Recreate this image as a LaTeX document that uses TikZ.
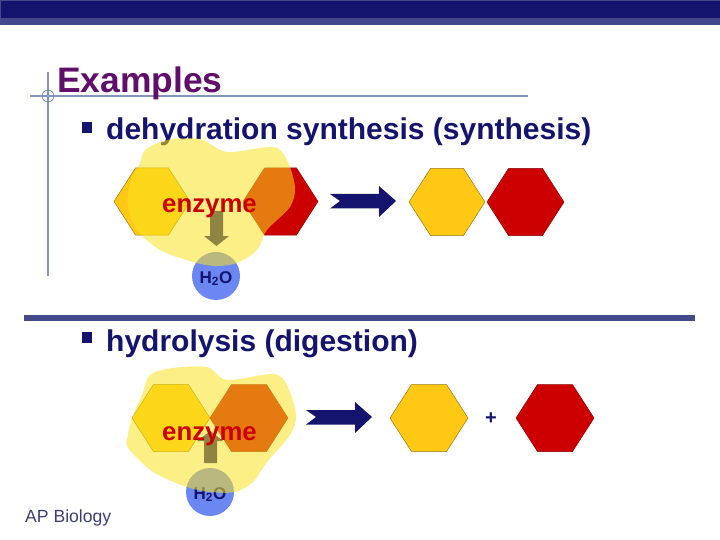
\documentclass[tikz,border=0pt]{standalone}
\usepackage{fontspec}
\setmainfont{Liberation Sans}
\definecolor{navy}{HTML}{14146E}
\definecolor{band}{HTML}{424A8C}
\definecolor{rulec}{HTML}{8494BE}
\definecolor{purp}{HTML}{5F0F6A}
\definecolor{yel}{HTML}{FFC814}
\definecolor{redh}{HTML}{CC0000}
\definecolor{blobc}{HTML}{FAE31E}
\definecolor{waterc}{HTML}{6B87F2}
\definecolor{apc}{HTML}{3C3E78}
\newcommand{\fs}[1]{\fontsize{#1}{#1}\selectfont}
\tikzset{
  x=1pt,y=-1pt,
  yhex/.style={fill=yel,draw=yel!60!black,line width=0.5pt,line join=round},
  rhex/.style={fill=redh,draw=redh!70!black,line width=0.5pt,line join=round},
  blockarrow/.style={fill=navy,draw=none},
  blob/.style={fill=blobc,fill opacity=0.54,draw=none},
  water/.style={fill=waterc,draw=none},
  head/.style={font=\fs{30}\bfseries,text=navy,anchor=base west,inner sep=0pt},
  enz/.style={font=\fs{25.8}\bfseries,text=redh,anchor=base,inner sep=0pt},
  htwo/.style={font=\fs{17}\bfseries,text=navy,anchor=base,inner sep=0pt},
}
\newcommand{\hexa}[5]{\draw[#1] (#2,#4) -- ++(21.5,-33.5) -- ++(#5-43,0) -- ++(21.5,33.5) -- ++(-21.5,33.5) -- ++(-#5+43,0) -- cycle;}
\newcommand{\rarrow}[2]{\fill[blockarrow] (#1,#2-7) -- ++(49,0) -- ++(0,-8) -- ++(17,15) -- ++(-17,16) -- ++(0,-8.5) -- ++(-49,0) -- ++(10,-7.5) -- cycle;}
\begin{document}
\begin{tikzpicture}
\useasboundingbox (0,0) rectangle (720,540);
\fill[white] (0,0) rectangle (720,540);
% header
\fill[band] (0,0) rectangle (720,25);
\fill[navy] (1,1) rectangle (720,18);
% title rules
\draw[rulec,line width=1.4pt] (30,96) -- (528,96);
\draw[rulec,line width=1.4pt] (48,72) -- (48,276);
\draw[rulec,line width=0.9pt] (48,96) circle[radius=6];
\draw[band,line width=6pt] (24,318) -- (695,318);
\node[font=\fs{35.4}\bfseries,text=purp,anchor=base west,inner sep=0pt] (title) at (57,93) {Examples};
% bullets
\fill[navy] (82,122) rectangle (92,133);
\fill[navy] (82,332) rectangle (92,343);
\node[head] (h1) at (106,140) {dehydration synthesis (synthesis)};
\node[head] (h2) at (106,351) {hydrolysis (digestion)};
% synthesis
\hexa{yhex}{114}{190}{201.5}{76}
\hexa{rhex}{243}{318}{201.5}{75}
\fill[water] (216,276) circle[radius=24];
\node[htwo] (w1) at (216,283) {H\textsubscript{2}O};
\fill[blockarrow] (210,211) -- (223,211) -- (223,236) -- (229,236) -- (216.5,246) -- (204,236) -- (210,236) -- cycle;
\fill[blob] plot[smooth cycle,tension=0.5] coordinates {(145,150) (167,140) (200,139) (227,152) (273,147) (287,160) (295,187) (290,207) (267,230) (257,250) (237,263) (215,266) (193,262) (160,250) (137,230) (128,207) (130,183) (140,163)};
\node[enz] (e1) at (209.5,212) {enzyme};
\rarrow{330}{201}
\hexa{yhex}{409}{485}{202}{76}
\hexa{rhex}{487}{564}{202}{77}
% hydrolysis
\hexa{yhex}{132}{210}{418}{78}
\hexa{rhex}{210}{288}{418}{78}
\fill[water] (210,492) circle[radius=24];
\node[htwo] (w2) at (210,499) {H\textsubscript{2}O};
\fill[blockarrow] (204,463) -- (217,463) -- (217,441) -- (223,441) -- (210.5,431) -- (197,441) -- (204,441) -- cycle;
\fill[blob] plot[smooth cycle,tension=0.5] coordinates {(150,375) (173,368) (207,367) (227,380) (273,374) (287,385) (296,415) (290,435) (267,462) (253,482) (235,492) (210,492) (187,487) (153,472) (128,448) (128,435) (132,418) (142,395)};
\node[enz] (e2) at (209.5,440) {enzyme};
\rarrow{306}{417}
\hexa{yhex}{390}{468}{418}{78}
\node[font=\fs{20}\bfseries,text=navy,inner sep=0pt] (plus) at (491,419) {+};
\hexa{rhex}{516}{594}{418}{78}
\node[font=\fs{17.6},text=apc,anchor=base west,inner sep=0pt] (ap) at (25,522) {AP Biology};
\end{tikzpicture}
\end{document}
